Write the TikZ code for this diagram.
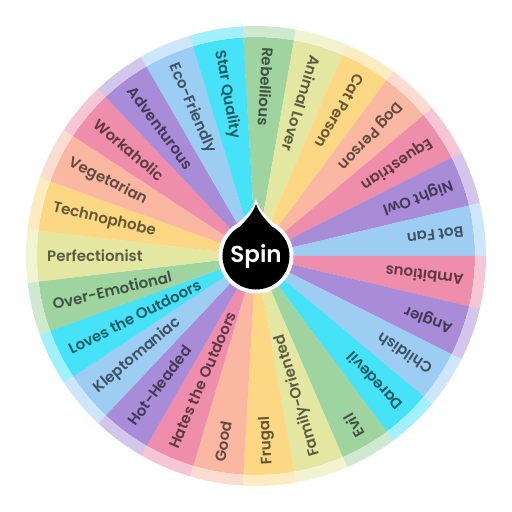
\documentclass[tikz,border=0pt]{standalone}
\usepackage{fontspec}
\setmainfont{Poppins}[UprightFont=* Medium, BoldFont=* SemiBold]
\usepackage{tikz}

\definecolor{wgreen}{HTML}{9FD3A0}
\definecolor{wlime}{HTML}{E4E7A2}
\definecolor{wyellow}{HTML}{FCD884}
\definecolor{wpeach}{HTML}{FAB8A2}
\definecolor{wpink}{HTML}{EF8DAD}
\definecolor{wpurple}{HTML}{A98CD7}
\definecolor{wblue}{HTML}{9DCDF3}
\definecolor{wcyan}{HTML}{46E2F8}

\tikzset{
  wheellabel/.style={inner sep=0pt, anchor=west, font=\bfseries\fontsize{15}{15}\selectfont},
}

\begin{document}
\begin{tikzpicture}[x=1pt,y=1pt]
  \useasboundingbox (-256,-256) rectangle (256,256);

  % segments, rim and labels
  \foreach \lab/\col [count=\i] in {Rebellious/wgreen, Animal Lover/wlime, Cat Person/wyellow,
      Dog Person/wpeach, Equestrian/wpink, Night Owl/wpurple, Bot Fan/wblue, Ambitious/wpink,
      Angler/wpurple, Childish/wblue, Daredevil/wcyan, Evil/wgreen, Family-Oriented/wlime,
      Frugal/wyellow, Good/wpeach, Hates the Outdoors/wpink, Hot-Headed/wpurple,
      Kleptomaniac/wblue, Loves the Outdoors/wcyan, Over-Emotional/wgreen, Perfectionist/wlime,
      Technophobe/wyellow, Vegetarian/wpeach, Workaholic/wpink, Adventurous/wpurple,
      Eco-Friendly/wblue, Star Quality/wcyan}{
    \pgfmathsetmacro{\mid}{86.6667-(\i-1)*13.3333}
    \pgfmathsetmacro{\a}{\mid+6.7}
    \pgfmathsetmacro{\b}{\mid-6.7}
    \fill[\col] (0,0) -- (\a:219) arc (\a:\b:219) -- cycle;
    \fill[\col!50] (\a:219) arc (\a:\b:219) -- (\b:230) arc (\b:\a:230) -- cycle;
    \node[wheellabel, text=\col!40!black, rotate=\mid+180] (lab\i) at (\mid:209) {\lab};
  }

  % spin button
  \fill[white] (0,57) .. controls (-3,47) and (-10,40) .. (118:37.5) arc (118:422:37.5)
      .. controls (10,40) and (3,47) .. (0,57);
  \fill[black] (0,52) .. controls (-3,43) and (-9,37) .. (118:33.5) arc (118:422:33.5)
      .. controls (9,37) and (3,43) .. (0,52);
  \node[text=white, font=\bfseries\fontsize{23}{23}\selectfont] (spin) at (0,-1) {Spin};
\end{tikzpicture}
\end{document}
